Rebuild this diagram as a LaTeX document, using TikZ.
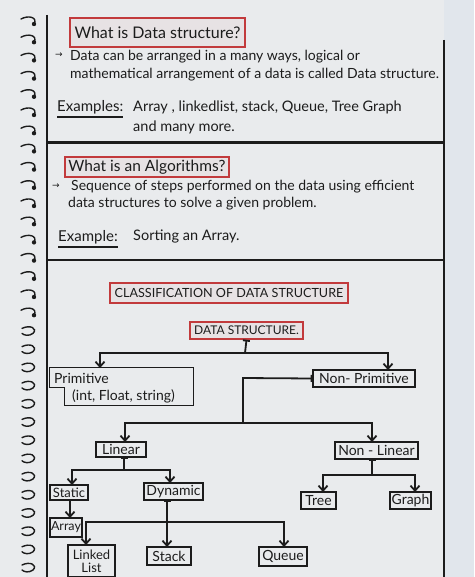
\documentclass[tikz,border=0pt]{standalone}
\usepackage{fontspec}
\setmainfont{Lato}
\newfontfamily\dvs{DejaVu Sans}
\usetikzlibrary{arrows.meta}
\definecolor{paper}{HTML}{E9EBED}
\definecolor{edge}{HTML}{E1E6EC}
\definecolor{ink}{HTML}{1C1C1C}
\definecolor{redink}{HTML}{C23A3C}
\begin{document}
\begin{tikzpicture}[x=1pt,y=-1pt,
  txt/.style={anchor=west,inner sep=0pt,font=\fontsize{14}{16}\selectfont,text=ink},
  redbox/.style={draw=redink,fill=redink!5!paper,line width=1.5pt,inner sep=0pt,text=ink},
  box/.style={draw=ink,line width=1.3pt,inner sep=0pt,text=ink,font=\fontsize{14}{14}\selectfont},
  conn/.style={draw=ink,line width=1.8pt},
  arr/.style={-{Straight Barb[length=5pt,width=9pt]}},
  bararr/.style={{Bar[width=7pt]}-{Straight Barb[length=5pt,width=9pt]}},
  barline/.style={{Bar[width=7pt]}-},
  frame/.style={draw=ink,line width=2pt},
  hook/.style={draw=ink,line width=1.4pt,line cap=round}
]
\useasboundingbox (0,0) rectangle (474,577);
\fill[paper] (0,0) rectangle (474,577);
\fill[edge] (444,0) rectangle (474,577);

% spiral hooks
\foreach \i in {0,...,30}{
  \pgfmathsetmacro{\yy}{23+18.2*\i}
  \ifnum\i<17
    \draw[hook] (21,\yy-4) .. controls (28,\yy-8) and (38,\yy-6) .. (34,\yy+1);
    \fill[ink] (34,\yy+1) circle (2.2);
  \else
    \draw[hook] (22,\yy-4) .. controls (30,\yy-8) and (38,\yy-4) .. (33,\yy+1) .. controls (29,\yy+4) and (24,\yy+3) .. (22,\yy+1);
  \fi
}

% frame lines
\draw[frame] (47,15) -- (47,577);
\draw[frame] (444,40) -- (444,577);
\draw[frame,line width=2.4pt] (47,142.5) -- (444,142.5);
\draw[frame,line width=2.4pt] (47,260) -- (444,260);

% ---------- section 1
\node[redbox,minimum width=175pt,minimum height=29pt,font=\fontsize{16}{16}\selectfont] (q1) at (157.5,32.5) {What is Data structure?};
\node[txt,font=\dvs\fontsize{9}{10}\selectfont] (a1) at (55,55) {→};
\node[txt] (l1) at (70,57) {Data can be arranged in a many ways, logical or};
\node[txt] (l2) at (70,75) {mathematical arrangement of a data is called Data structure.};
\node[txt,font=\fontsize{15}{16}\selectfont] (ex) at (57,107) {Examples:};
\draw[ink,line width=1.3pt] ([yshift=-3pt]ex.south west) -- ([yshift=-3pt]ex.south east);
\node[txt,font=\fontsize{14.5}{16}\selectfont] (exl) at (133,107) {Array , linkedlist, stack, Queue, Tree Graph};
\node[txt,font=\fontsize{14.5}{16}\selectfont] (exm) at (133,127) {and many more.};

% ---------- section 2
\node[redbox,minimum width=164pt,minimum height=20pt,font=\fontsize{15.5}{16}\selectfont] (q2) at (147,167) {What is an Algorithms?};
\node[txt,font=\dvs\fontsize{9}{10}\selectfont] (a2) at (52,186) {→};
\node[txt] (l3) at (71,187) {Sequence of steps performed on the data using efficient};
\node[txt] (l4) at (68,204) {data structures to solve a given problem.};
\node[txt,font=\fontsize{15}{16}\selectfont] (ex2) at (58,237) {Example:};
\draw[ink,line width=1.3pt] ([yshift=-3pt]ex2.south west) -- ([yshift=-3pt]ex2.south east);
\node[txt,font=\fontsize{14.5}{16}\selectfont] (ex2l) at (133,237) {Sorting an Array.};

% ---------- section 3
\node[redbox,minimum width=238pt,minimum height=20pt,font=\fontsize{12.6}{13}\selectfont] (cls) at (229,293) {CLASSIFICATION OF DATA STRUCTURE};
\node[redbox,minimum width=113pt,minimum height=17pt,font=\fontsize{12}{12}\selectfont] (ds) at (246.5,330.5) {DATA STRUCTURE.};

% primitive (stepped box)
\node[inner sep=0pt,minimum width=143pt,minimum height=37pt] (prim) at (121.5,386.5) {};
\draw[ink,line width=1.3pt] (prim.north west) -- (prim.north east) -- (prim.south east) -- ([xshift=15pt]prim.south west) -- ([xshift=15pt,yshift=-20pt]prim.north west) -- ([yshift=-20pt]prim.north west) -- cycle;
\node[txt,font=\fontsize{14}{14}\selectfont] (primt) at (54,378) {Primitive};
\node[txt,font=\fontsize{14}{14}\selectfont] (primd) at (72,396.5) {(int, Float, string)};

\node[box,minimum width=102pt,minimum height=17pt] (nonp) at (364,378.5) {Non- Primitive};
\node[box,minimum width=50pt,minimum height=15pt] (lin) at (121,449.5) {Linear};
\node[box,minimum width=83pt,minimum height=17pt] (nonlin) at (376.5,450.5) {Non - Linear};
\node[box,minimum width=38pt,minimum height=15pt,font=\fontsize{13}{13}\selectfont] (stat) at (69,492.5) {Static};
\node[box,minimum width=59pt,minimum height=17pt] (dyn) at (173.5,491.5) {Dynamic};
\node[box,minimum width=35pt,minimum height=17pt] (tree) at (318.5,500.5) {Tree};
\node[box,minimum width=41pt,minimum height=17pt] (graph) at (410.5,500.5) {Graph};
\node[box,minimum width=32pt,minimum height=19pt,font=\fontsize{12.5}{13}\selectfont] (arrayb) at (66,527.5) {Array};
\node[box,minimum width=47pt,minimum height=32pt,align=center,font=\fontsize{13}{13}\selectfont] (ll) at (91.5,561) {Linked\\List};
\node[box,minimum width=44pt,minimum height=18pt] (stack) at (169,556) {Stack};
\node[box,minimum width=48pt,minimum height=19pt] (queue) at (283,556.5) {Queue};

% coordinates
\coordinate (j1) at (245,353);
\coordinate (primin) at (100,368);
\coordinate (nonpin) at (388,370);
\coordinate (j2) at (243,378);
\coordinate (j3) at (243,423);
\coordinate (linin) at (125,442);
\coordinate (nonlinin) at (372,442);
\coordinate (linout) at (124,457);
\coordinate (j4) at (124,470);
\coordinate (statin) at (72,485);
\coordinate (dynin) at (170,483);
\coordinate (nlout) at (372,459);
\coordinate (j5) at (372,475);
\coordinate (treein) at (323,492);
\coordinate (graphin) at (415,492);
\coordinate (statout) at (70,500);
\coordinate (arrin) at (70,518);
\coordinate (dynout) at (167,500);
\coordinate (stackin) at (167,547);
\coordinate (j6) at (167,522);
\coordinate (llin) at (86,545);
\coordinate (queuein) at (284,547);

% connectors
\draw[conn,barline] (ds.south) -- (j1);
\draw[conn,arr] (j1) -| (primin);
\draw[conn,arr] (j1) -| (nonpin);
\draw[conn,barline] (nonp.west) -- (j2) -- (j3);
\draw[conn,arr] (j3) -| (linin);
\draw[conn,arr] (j3) -| (nonlinin);
\draw[conn,barline] (linout) -- (j4);
\draw[conn,arr] (j4) -| (statin);
\draw[conn,arr] (j4) -| (dynin);
\draw[conn,barline] (nlout) -- (j5);
\draw[conn,arr] (j5) -| (treein);
\draw[conn,arr] (j5) -| (graphin);
\draw[conn,arr] (statout) -- (arrin);
\draw[conn,bararr] (dynout) -- (stackin);
\draw[conn,arr] (j6) -| (llin);
\draw[conn,arr] (j6) -| (queuein);
\end{tikzpicture}
\end{document}
